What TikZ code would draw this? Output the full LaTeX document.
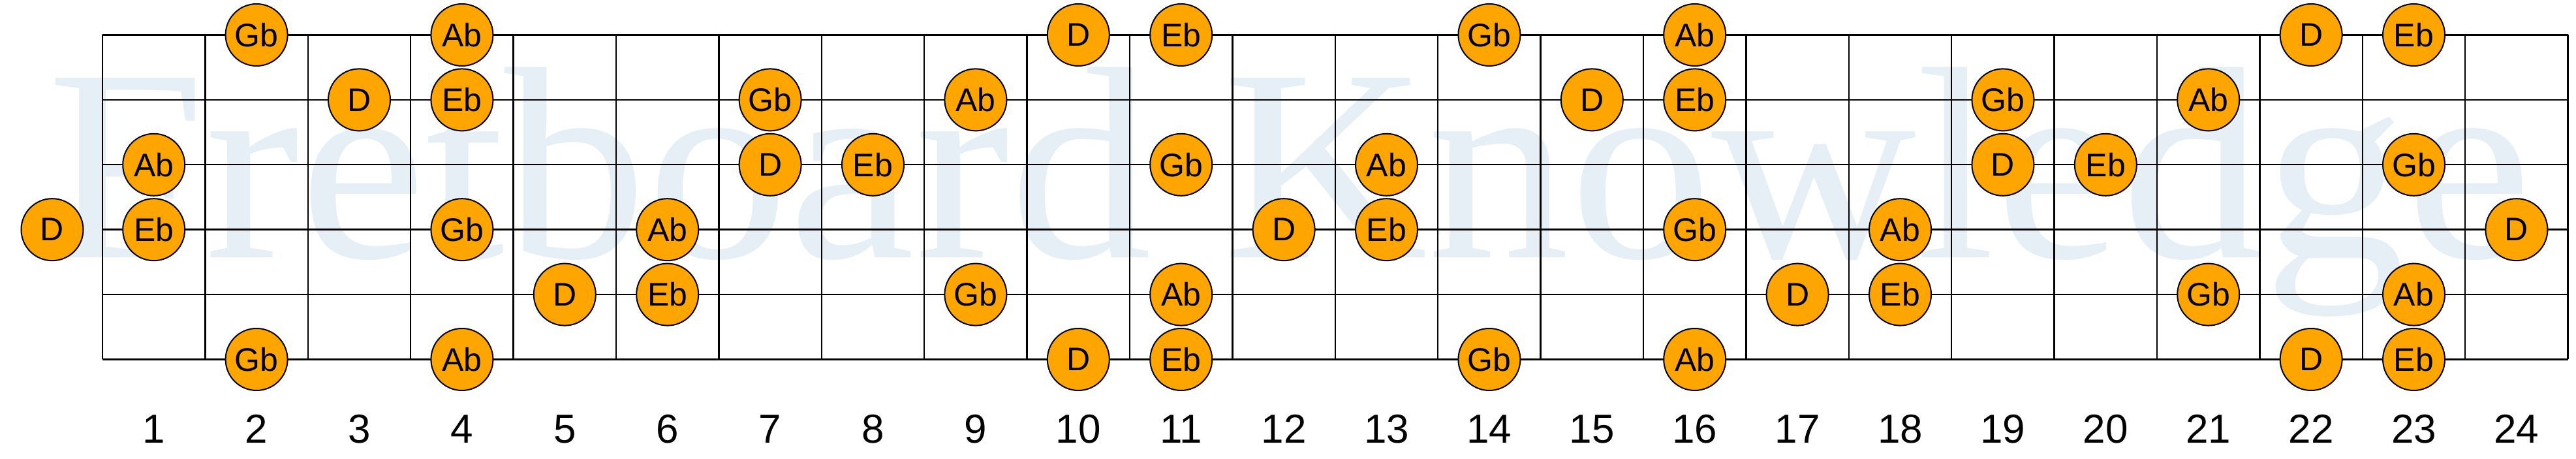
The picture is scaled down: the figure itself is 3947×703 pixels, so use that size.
\documentclass[tikz,border=0pt]{standalone}
\usepackage{fontspec}
\setmainfont{Liberation Sans}
\newfontfamily\wmfont{Liberation Serif}
\definecolor{noteorange}{RGB}{255,165,0}
\definecolor{wmblue}{RGB}{230,239,245}
\tikzset{
  note/.style={circle,draw=black,line width=0.5pt,fill=noteorange,minimum size=23.75pt,inner sep=0pt,font=\fontsize{12.5}{12.5}\selectfont},
  fretnum/.style={font=\fontsize{15.5}{15.5}\selectfont,inner sep=0pt},
  gridline/.style={line width=0.6pt,black},
  watermark/.style={font=\wmfont\fontsize{105}{105}\selectfont,text=wmblue,inner sep=0pt,anchor=base west}
}
\begin{document}
\begin{tikzpicture}[x=0.25pt,y=-0.25pt]
\useasboundingbox (0,0) rectangle (3947,703);
% watermark
\node[watermark,xscale=1.036] (wm) at (72,395) {Fretboard Knowledge};
% strings
\foreach \s in {1,...,6}{
  \pgfmathsetmacro{\yy}{53.5+99.4*(\s-1)}
  \coordinate (sL\s) at (157,\yy);
  \coordinate (sR\s) at (3934.6,\yy);
  \draw[gridline] (sL\s) -- (sR\s);
}
% frets
\foreach \k in {0,...,24}{
  \pgfmathsetmacro{\xx}{157+157.4*\k}
  \coordinate (fT\k) at (\xx,53.5);
  \coordinate (fB\k) at (\xx,550.5);
  \draw[gridline] (fT\k) -- (fB\k);
}
% fret numbers
\foreach \k in {1,...,24}{
  \pgfmathsetmacro{\xx}{157+157.4*(\k-0.5)}
  \node[fretnum] (num\k) at (\xx,657) {\k};
}
% notes: string/fret/label
\foreach \s/\f/\t in {
  1/2/Gb,1/4/Ab,1/10/D,1/11/Eb,1/14/Gb,1/16/Ab,1/22/D,1/23/Eb,
  2/3/D,2/4/Eb,2/7/Gb,2/9/Ab,2/15/D,2/16/Eb,2/19/Gb,2/21/Ab,
  3/1/Ab,3/7/D,3/8/Eb,3/11/Gb,3/13/Ab,3/19/D,3/20/Eb,3/23/Gb,
  4/1/Eb,4/4/Gb,4/6/Ab,4/12/D,4/13/Eb,4/16/Gb,4/18/Ab,4/24/D,
  5/5/D,5/6/Eb,5/9/Gb,5/11/Ab,5/17/D,5/18/Eb,5/21/Gb,5/23/Ab,
  6/2/Gb,6/4/Ab,6/10/D,6/11/Eb,6/14/Gb,6/16/Ab,6/22/D,6/23/Eb}{
  \pgfmathsetmacro{\xx}{157+157.4*(\f-0.5)}
  \pgfmathsetmacro{\yy}{53.5+99.4*(\s-1)}
  \node[note] (n-\s-\f) at (\xx,\yy) {\t};
}
% open string note
\node[note] (n-4-0) at (80,351.7) {D};
\end{tikzpicture}
\end{document}
